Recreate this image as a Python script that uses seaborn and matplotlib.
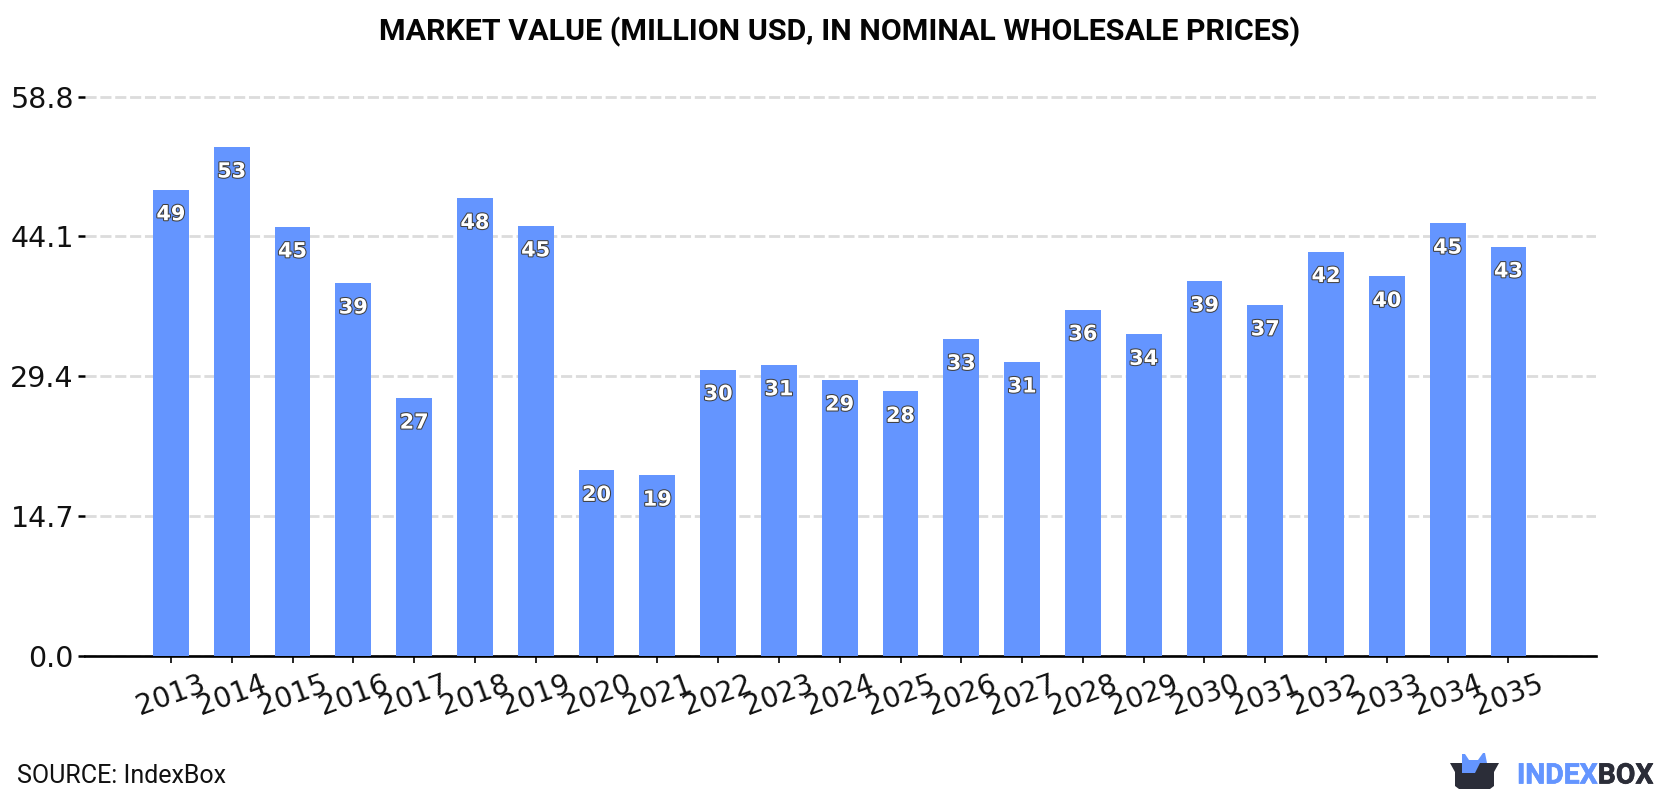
import matplotlib
matplotlib.use("Agg")
import matplotlib.pyplot as plt
import matplotlib.patheffects as pe
from matplotlib.patches import Polygon
import seaborn as sns
import pandas as pd

years = [str(y) for y in range(2013, 2036)]
values = [49.0, 53.49, 45.1, 39.2, 27.1, 48.1, 45.2, 19.5, 19.0, 30.1, 30.6, 29.0,
          27.8, 33.3, 30.9, 36.4, 33.8, 39.4, 36.9, 42.5, 39.9, 45.49, 43.0]
y_ticks = [0.0, 14.7, 29.4, 44.1, 58.8]
title = "MARKET VALUE (MILLION USD, IN NOMINAL WHOLESALE PRICES)"
source = "SOURCE: IndexBox"

BAR = "#6495ff"
DARK = "#2b2d38"
W, H = 1680, 800

sns.set_theme(style="white")
plt.rcParams["font.family"] = ["DejaVu Sans"]

fig = plt.figure(figsize=(W / 100, H / 100), dpi=100, facecolor="white")
ax = fig.add_axes([85 / W, 1 - 656 / H, (1596 - 85) / W, (656 - 82) / H])

df = pd.DataFrame({"year": years, "value": values})
sns.barplot(data=df, x="year", y="value", color=BAR, saturation=1, width=0.59,
            linewidth=0, ax=ax, zorder=3)

ax.set_xlim(-1.414, 23.44)
ax.set_ylim(0, 574 / 9.515)
ax.set_xlabel("")
ax.set_ylabel("")
ax.set_yticks(y_ticks, [f"{v:.1f}" for v in y_ticks])
ax.yaxis.grid(True, color="#dcdcdc", linestyle=(0, (4.0, 1.35)), linewidth=2, zorder=0)
ax.xaxis.grid(False)
ax.set_axisbelow(True)
for side in ("top", "left", "right"):
    ax.spines[side].set_visible(False)
ax.spines["bottom"].set_color("black")
ax.spines["bottom"].set_linewidth(1.9)
ax.tick_params(axis="y", length=5, width=1.8, color="black", labelsize=20.5, labelcolor="#111111", pad=3, left=True)
ax.tick_params(axis="x", length=5, width=1.2, color="black", labelsize=20.2, labelcolor="#111111", pad=5,
               labelrotation=20, bottom=True)
for lab in ax.get_xticklabels():
    lab.set_ha("center")
    lab.set_rotation_mode("default")

for i, v in enumerate(values):
    ax.annotate(f"{v:.0f}", (i, v), xytext=(0, -17.6), textcoords="offset points",
                ha="center", va="center", fontsize=15, fontweight="bold", color="white",
                zorder=5, path_effects=[pe.withStroke(linewidth=1.5, foreground="#404040")])

fig.text(0.5, 1 - 32 / H, title, ha="center", va="center", fontsize=21.9, fontweight="bold",
         family="Roboto", color="#050505")
fig.text(17 / W, 1 - 776 / H, source, ha="left", va="center", fontsize=18, family="Roboto", color="#111111")

# Brand mark in the lower right corner, laid out in figure pixels
px = fig.add_axes([0, 0, 1, 1], facecolor="none")
px.set_xlim(0, W)
px.set_ylim(H, 0)
px.axis("off")
px.add_patch(Polygon([(1450, 763), (1499, 763), (1494, 772), (1494, 786), (1490, 789),
                      (1459, 789), (1455, 786), (1455, 772)], color=DARK, lw=0, zorder=2))
px.add_patch(Polygon([(1462, 754), (1465, 754), (1469, 760), (1478, 760), (1483, 753), (1485, 753),
                      (1487, 763), (1480, 763), (1475, 773), (1462, 773)],
                     color=BAR, lw=0, zorder=3))
logo_stroke = 0.5
t = px.text(1517, 776, "INDEX", ha="left", va="center", fontsize=20.4, fontweight="bold",
            family="Roboto", color=BAR,
            path_effects=[pe.withStroke(linewidth=logo_stroke, foreground=BAR)])
fig.canvas.draw()
x1 = t.get_window_extent().x1
px.text(x1, 776, "BOX", ha="left", va="center", fontsize=20.4, fontweight="bold",
        family="Roboto", color=DARK,
        path_effects=[pe.withStroke(linewidth=logo_stroke, foreground=DARK)])

fig.savefig("out.png", dpi=100, facecolor="white")
